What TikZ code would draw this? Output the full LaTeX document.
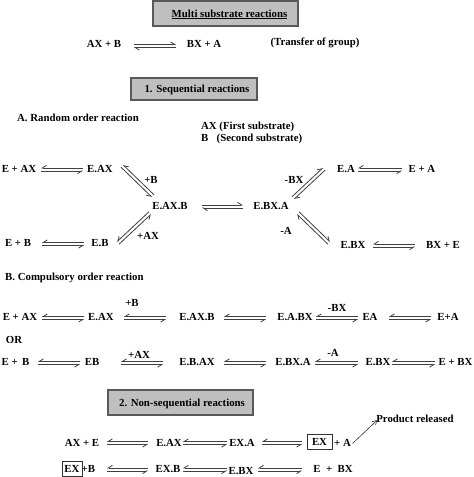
\documentclass[tikz,border=0pt]{standalone}
\usepackage{fontspec}
\setmainfont{Liberation Serif}
\usetikzlibrary{arrows.meta,calc}
\tikzset{
  lbl/.style={inner sep=0pt, font=\fontsize{10.8}{13}\selectfont\bfseries, text height=7pt, text depth=0pt},
  hdr/.style={fill=black!25, draw=black!65, line width=1.1pt},
  eqline/.style={draw=black!75, line width=0.8pt},
  exbox/.style={lbl, draw=black!80, line width=0.8pt, text height=7pt, minimum height=15pt},
  ptr/.style={draw=black!80, line width=0.6pt, -{Straight Barb[length=4pt,width=5pt]}}
}
\newcommand\eqarrL[2]{%
  \draw[eqline,-{Straight Barb[right,length=4pt,width=5pt]}] ($(#2)!1.6pt!-90:(#1)$) -- ($(#1)!1.6pt!90:(#2)$);
  \draw[eqline,-{Straight Barb[right,length=4pt,width=5pt]}] ($(#1)!1.6pt!-90:(#2)$) -- ($(#2)!1.6pt!90:(#1)$);}
\newcommand\eqarrR[2]{%
  \draw[eqline,-{Straight Barb[left,length=4pt,width=5pt]}] ($(#1)!1.6pt!90:(#2)$) -- ($(#2)!1.6pt!-90:(#1)$);
  \draw[eqline,-{Straight Barb[left,length=4pt,width=5pt]}] ($(#2)!1.6pt!90:(#1)$) -- ($(#1)!1.6pt!-90:(#2)$);}
\begin{document}
\begin{tikzpicture}[x=1pt,y=-1pt]
\useasboundingbox (0,0) rectangle (474,477);
\fill[white] (0,0) rectangle (474,477);

% ---- title
\draw[hdr] (153,1) rectangle (298,26);
\node[lbl] (t0) at (229.5,13.5) {\underline{Multi substrate reactions}};
\node[lbl] (r0a) at (104,44) {AX + B};
\node[lbl] (r0b) at (204,44) {BX + A};
\node[lbl] (r0c) at (315,42) {(Transfer of group)};
\coordinate (q0s) at (134,46); \coordinate (q0e) at (176,46);
\eqarrR{q0s}{q0e}

% ---- 1. sequential
\draw[hdr] (131,78) rectangle (257,100);
\node[lbl] (t1) at (197,89) {1. Sequential reactions};
\node[lbl,anchor=west] (tA) at (17,118) {A. Random order reaction};
\node[lbl,anchor=west] (k1) at (201,126) {AX (First substrate)};
\node[lbl,anchor=west] (k2) at (201,138) {\makebox[15.5pt][l]{B}(Second substrate)};

\node[lbl] (a1) at (19,169) {E + AX};
\node[lbl] (a2) at (100,169) {E.AX};
\coordinate (qa1s) at (41,169.5); \coordinate (qa1e) at (83,169.5);
\eqarrL{qa1s}{qa1e}
\coordinate (qd1s) at (122,166); \coordinate (qd1e) at (153,196);
\eqarrL{qd1s}{qd1e}
\node[lbl] (pB) at (151,180) {+B};
\node[lbl] (a3) at (170,206) {E.AX.B};
\node[lbl] (a4) at (271,206) {E.BX.A};
\coordinate (qmids) at (202,206.5); \coordinate (qmide) at (243,206.5);
\eqarrR{qmids}{qmide}
\coordinate (qd2s) at (118,243); \coordinate (qd2e) at (150,213);
\eqarrL{qd2s}{qd2e}
\node[lbl] (pAX) at (148,236) {+AX};
\node[lbl] (a5) at (18,243) {E + B};
\node[lbl] (a6) at (100,243) {E.B};
\coordinate (qa2s) at (42,244); \coordinate (qa2e) at (84,244);
\eqarrL{qa2s}{qa2e}

\coordinate (qd3s) at (293,198); \coordinate (qd3e) at (324,169);
\eqarrR{qd3s}{qd3e}
\node[lbl] (mBX) at (294,180) {-BX};
\node[lbl] (a7) at (346,169) {E.A};
\node[lbl] (a8) at (422,169) {E + A};
\coordinate (qa3s) at (358,169.5); \coordinate (qa3e) at (402,169.5);
\eqarrL{qa3s}{qa3e}
\coordinate (qd4s) at (298,213); \coordinate (qd4e) at (329,243);
\eqarrR{qd4s}{qd4e}
\node[lbl] (mA) at (286,231) {-A};
\node[lbl] (a9) at (353,245) {E.BX};
\node[lbl] (a10) at (443,245) {BX + E};
\coordinate (qa4s) at (373,245.5); \coordinate (qa4e) at (415,245.5);
\eqarrL{qa4s}{qa4e}

% ---- B. compulsory
\node[lbl,anchor=west] (tB) at (5,277) {B. Compulsory order reaction};
\node[lbl] (b1) at (20,317) {E + AX};
\node[lbl] (b2) at (101,317) {E.AX};
\node[lbl] (b3) at (197,317) {E.AX.B};
\node[lbl] (b4) at (295,317) {E.A.BX};
\node[lbl] (b5) at (370,317) {EA};
\node[lbl] (b6) at (448,317) {E+A};
\coordinate (qb1s) at (42,318); \coordinate (qb1e) at (84,318); \eqarrL{qb1s}{qb1e}
\coordinate (qb2s) at (124,318); \coordinate (qb2e) at (166,318); \eqarrL{qb2s}{qb2e}
\coordinate (qb3s) at (224,318); \coordinate (qb3e) at (266,318); \eqarrL{qb3s}{qb3e}
\coordinate (qb4s) at (316,318); \coordinate (qb4e) at (358,318); \eqarrL{qb4s}{qb4e}
\coordinate (qb5s) at (389,318); \coordinate (qb5e) at (431,318); \eqarrL{qb5s}{qb5e}
\node[lbl] (lb2) at (132,302.5) {+B};
\node[lbl] (lb4) at (337,308) {-BX};

\node[lbl] (or) at (14,340) {OR};
\node[lbl] (c1) at (15.5,362) {E + \,B};
\node[lbl] (c2) at (92,362) {EB};
\node[lbl] (c3) at (197,362) {E.B.AX};
\node[lbl] (c4) at (293,362) {E.BX.A};
\node[lbl] (c5) at (378,362) {E.BX};
\node[lbl] (c6) at (455.5,362) {E + BX};
\coordinate (qc1s) at (38,363); \coordinate (qc1e) at (80,363); \eqarrL{qc1s}{qc1e}
\coordinate (qc2s) at (121,363); \coordinate (qc2e) at (163,363); \eqarrL{qc2s}{qc2e}
\coordinate (qc3s) at (224,363); \coordinate (qc3e) at (266,363); \eqarrL{qc3s}{qc3e}
\coordinate (qc4s) at (315,363); \coordinate (qc4e) at (358,363); \eqarrL{qc4s}{qc4e}
\coordinate (qc5s) at (392,363); \coordinate (qc5e) at (435,363); \eqarrL{qc5s}{qc5e}
\node[lbl] (lc2) at (139,355) {+AX};
\node[lbl] (lc4) at (333,353) {-A};

% ---- 2. non-sequential
\draw[hdr] (108,390) rectangle (253,415);
\node[lbl] (t2) at (182,403) {2. Non-sequential reactions};
\node[lbl] (n1) at (82,442.5) {AX + E};
\node[lbl] (n2) at (169,442.5) {E.AX};
\node[lbl] (n3) at (242,442.5) {EX.A};
\node[exbox, minimum width=25pt] (n4) at (319.5,441.5) {EX};
\node[lbl,anchor=west] (n5) at (334,442.5) {+ A};
\node[lbl] (prod) at (415,419) {Product released};
\coordinate (qn1s) at (107,443); \coordinate (qn1e) at (148,443); \eqarrL{qn1s}{qn1e}
\coordinate (qn2s) at (183,443); \coordinate (qn2e) at (227,443); \eqarrL{qn2s}{qn2e}
\coordinate (qn3s) at (262,443); \coordinate (qn3e) at (302,443); \eqarrL{qn3s}{qn3e}
\draw[ptr] ([xshift=1.5pt,yshift=-1pt]n5.east) -- ([xshift=1pt,yshift=2.5pt]prod.south west);

\node[exbox, minimum width=20pt] (m1) at (72,468.5) {EX};
\node[lbl,anchor=west] (m1b) at (81.5,469) {+B};
\node[lbl] (m2) at (168,469) {EX.B};
\node[lbl] (m3) at (241,471) {E.BX};
\node[lbl] (m4) at (333,469) {E\hspace{5.5pt}+\hspace{5.5pt}BX};
\coordinate (qm1s) at (107,469.5); \coordinate (qm1e) at (148,469.5); \eqarrL{qm1s}{qm1e}
\coordinate (qm2s) at (183,469.5); \coordinate (qm2e) at (227,469.5); \eqarrL{qm2s}{qm2e}
\coordinate (qm3s) at (258,469.5); \coordinate (qm3e) at (302,469.5); \eqarrL{qm3s}{qm3e}
\end{tikzpicture}
\end{document}
